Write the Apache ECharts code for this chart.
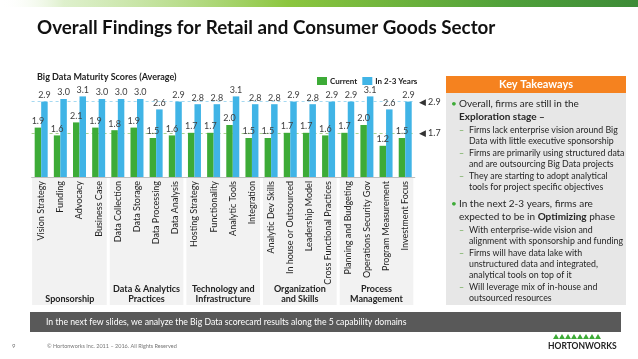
<!DOCTYPE html>
<html><head><meta charset="utf-8">
<script src="https://cdn.jsdelivr.net/npm/echarts/dist/echarts.min.js"></script>
<style>html,body{margin:0;padding:0;background:#fff}#c{width:638px;height:359px}</style>
</head><body><div id="c"></div>
<script>
const categories = ['Vision Strategy','Funding','Advocacy','Business Case','Data Collection','Data Storage','Data Processing','Data Analysis','Hosting Strategy','Functionality','Analytic Tools','Integration','Analytic Dev Skills','In house or Outsourced','Leadership Model','Cross Functional Practices','Planning and Budgeting','Operations Security Gov','Program Measurement','Investment Focus'];
const current = [1.9,1.6,2.1,1.9,1.8,1.9,1.5,1.6,1.7,1.7,2.0,1.5,1.5,1.7,1.7,1.6,1.7,2.0,1.2,1.5];
const future  = [2.9,3.0,3.1,3.0,3.0,3.0,2.6,2.9,2.8,2.8,3.1,2.8,2.8,2.9,2.8,2.9,2.9,3.1,2.6,2.9];
const groups = ['Sponsorship','Data & Analytics\nPractices','Technology and\nInfrastructure','Organization\nand Skills','Process\nManagement'];
const groupSizes = [4,4,4,4,4];
const avgCurrent = 1.7;
const avgFuture = 2.9;

const FONT = 'Lato, "Open Sans", sans-serif';
const GREEN = '#3dab37', BLUE = '#40b4e6';
const chart = echarts.init(document.getElementById('c'));

const option = {
  animation: false,
  backgroundColor: '#fff',
  textStyle: {fontFamily: FONT},
  grid: {left: 31.6, right: 223.2, top: 86, bottom: 182},
  legend: {
    data: ['Current','In 2-3 Years'], left: 312, top: 72, icon: 'rect',
    itemWidth: 10, itemHeight: 8, itemGap: 5,
    textStyle: {fontSize: 8, fontWeight: 'bold', color: '#222', fontFamily: FONT, padding: [0,0,0,-2]}
  },
  xAxis: {
    type: 'category', data: categories,
    axisLine: {lineStyle: {color: '#bfbfbf'}},
    axisTick: {show: false},
    axisLabel: {rotate: 90, interval: 0, fontSize: 9, color: '#222', margin: 4, fontFamily: FONT}
  },
  yAxis: {type: 'value', min: 0, max: 3.5, show: false, splitLine: {show: false}},
  series: [
    {
      name: 'Current', type: 'bar', data: current, barWidth: 6.5, barGap: '0%', z: 3,
      itemStyle: {color: GREEN},
      label: {show: true, position: 'top', distance: 2, fontSize: 9, color: '#404040', fontFamily: FONT, formatter: p => p.value.toFixed(1)},
      markLine: {
        silent: true, symbol: 'none', z: 1,
        lineStyle: {type: [3,3], color: '#a9d18e', width: 1.2},
        label: {position: 'end', formatter: '◀ ' + avgCurrent.toFixed(1), fontSize: 9, color: '#333', fontFamily: FONT, distance: 4},
        data: [{yAxis: avgCurrent}]
      }
    },
    {
      name: 'In 2-3 Years', type: 'bar', data: future, barWidth: 6.5, z: 3,
      itemStyle: {color: BLUE},
      label: {show: true, position: 'top', distance: 2, fontSize: 9, color: '#404040', fontFamily: FONT, formatter: p => p.value.toFixed(1)},
      markLine: {
        silent: true, symbol: 'none', z: 1,
        lineStyle: {type: [3,3], color: '#a6d9f1', width: 1.2},
        label: {position: 'end', formatter: '◀ ' + avgFuture.toFixed(1), fontSize: 9, color: '#333', fontFamily: FONT, distance: 4},
        data: [{yAxis: avgFuture}]
      }
    }
  ]
};
chart.setOption(option);

// group panels computed from the category axis
const x0 = chart.convertToPixel({xAxisIndex: 0}, categories[0]);
const x1 = chart.convertToPixel({xAxisIndex: 0}, categories[1]);
const band = x1 - x0;
const g = [];
let idx = 0;
groups.forEach((name, i) => {
  const first = chart.convertToPixel({xAxisIndex: 0}, categories[idx]);
  const last = chart.convertToPixel({xAxisIndex: 0}, categories[idx + groupSizes[i] - 1]);
  const left = first - band / 2 + (i === 0 ? 0.5 : 1.5);
  const right = last + band / 2 - 1.5;
  g.push({type: 'rect', z: -10, shape: {x: left, y: 178, width: right - left, height: 127}, style: {fill: '#f2f2f2'}});
  g.push({type: 'text', z: 5, x: (first + last) / 2, y: 304, style: {text: name, fontFamily: FONT, fontSize: 9, fontWeight: 'bold', fill: '#222', align: 'center', verticalAlign: 'bottom', lineHeight: 10}});
  idx += groupSizes[i];
});

// slide decorations
g.push({type: 'rect', z: -20, shape: {x: 0, y: 0, width: 638, height: 7}, style: {fill: new echarts.graphic.LinearGradient(0,0,1,0,[{offset:0,color:'rgba(255,255,255,0)'},{offset:0.1,color:'rgba(200,230,170,0.6)'},{offset:0.45,color:'#8cc63f'},{offset:0.8,color:'#4fa03a'},{offset:1,color:'#3d8b37'}])}});
g.push({type: 'text', x: 37, y: 28, style: {text: 'Overall Findings for Retail and Consumer Goods Sector', fontFamily: FONT, fontSize: 18.8, fontWeight: 'bold', fill: '#111', verticalAlign: 'middle'}});
g.push({type: 'text', x: 37, y: 77, style: {text: 'Big Data Maturity Scores (Average)', fontFamily: FONT, fontSize: 9, fontWeight: 'bold', fill: '#222', verticalAlign: 'middle'}});

// key takeaways panel
g.push({type: 'rect', shape: {x: 446, y: 76, width: 180, height: 17}, style: {fill: '#f5821f'}});
g.push({type: 'text', x: 536, y: 84.5, style: {text: 'Key Takeaways', fontFamily: FONT, fontSize: 11, fontWeight: 'bold', fill: '#fff', align: 'center', verticalAlign: 'middle'}});
g.push({type: 'rect', z: -10, shape: {x: 446, y: 93, width: 180, height: 212}, style: {fill: '#e7e7e7'}});

const mainLines = [
  [104, true, 'Overall, firms are still in the'],
  [117, false, '{b|Exploration stage –}'],
  [204, true, 'In the next 2-3 years, firms are'],
  [217, false, 'expected to be in {b|Optimizing} phase']
];
mainLines.forEach(([y, bullet, t]) => {
  if (bullet) g.push({type: 'text', x: 451, y: y, style: {text: '•', fontFamily: FONT, fontSize: 10, fill: '#3dab37', verticalAlign: 'middle'}});
  g.push({type: 'text', x: 459, y: y, style: {text: t, fontFamily: FONT, fontSize: 10, fill: '#262626', verticalAlign: 'middle', rich: {b: {fontFamily: FONT, fontSize: 10, fontWeight: 'bold', fill: '#262626'}}}});
});
const subLines = [
  [130, true, 'Firms lack enterprise vision around Big'],
  [141, false, 'Data with little executive sponsorship'],
  [153, true, 'Firms are primarily using structured data'],
  [164, false, 'and are outsourcing Big Data projects'],
  [176, true, 'They are starting to adopt analytical'],
  [187, false, 'tools for project specific objectives'],
  [230, true, 'With enterprise-wide vision and'],
  [241, false, 'alignment with sponsorship and funding'],
  [253, true, 'Firms will have data lake with'],
  [264, false, 'unstructured data and integrated,'],
  [275, false, 'analytical tools on top of it'],
  [287, true, 'Will leverage mix of in-house and'],
  [298, false, 'outsourced resources']
];
subLines.forEach(([y, dash, t]) => {
  if (dash) g.push({type: 'text', x: 459, y: y, style: {text: '–', fontFamily: FONT, fontSize: 8.8, fill: '#6aa84f', verticalAlign: 'middle'}});
  g.push({type: 'text', x: 469, y: y, style: {text: t, fontFamily: FONT, fontSize: 8.8, fill: '#262626', verticalAlign: 'middle'}});
});

// bottom bar and footer
g.push({type: 'rect', shape: {x: 30, y: 312, width: 591, height: 20}, style: {fill: '#595959'}});
g.push({type: 'text', x: 46, y: 322, style: {text: 'In the next few slides, we analyze the Big Data scorecard results along the 5 capability domains', fontFamily: FONT, fontSize: 8.7, fill: '#fff', verticalAlign: 'middle'}});
g.push({type: 'text', x: 12, y: 346, style: {text: '9', fontFamily: FONT, fontSize: 6, fill: '#777', verticalAlign: 'middle'}});
g.push({type: 'text', x: 47, y: 346, style: {text: '© Hortonworks Inc. 2011 – 2016. All Rights Reserved', fontFamily: FONT, fontSize: 5.5, fill: '#777', verticalAlign: 'middle'}});
g.push({type: 'text', x: 548, y: 346, style: {text: 'HORTONWORKS', fontFamily: FONT, fontSize: 8.5, fontWeight: 'bold', fill: '#222', verticalAlign: 'middle'}});
for (let k = 0; k < 8; k++) {
  g.push({type: 'polygon', shape: {points: [[553 + k*6, 339],[556 + k*6, 334],[559 + k*6, 339]]}, style: {fill: '#3dab37'}});
}

chart.setOption({graphic: g});
</script>
</body></html>
